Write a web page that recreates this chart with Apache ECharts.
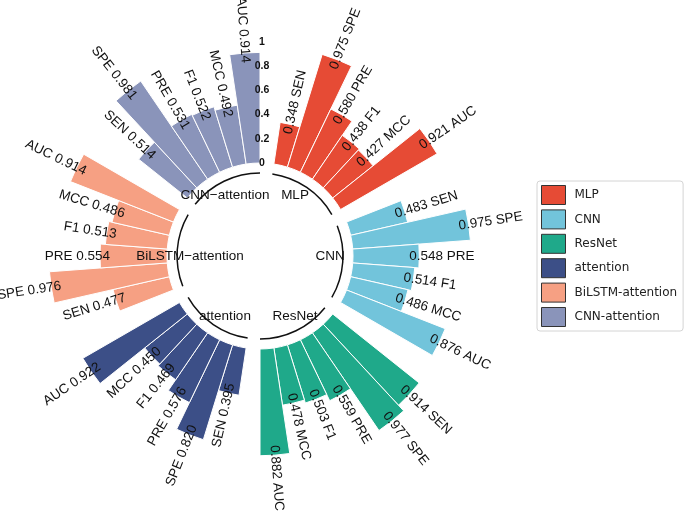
<!DOCTYPE html>
<html>
<head>
<meta charset="utf-8">
<script src="https://cdn.jsdelivr.net/npm/echarts@6/dist/echarts.min.js"></script>
<style>html,body{margin:0;padding:0;background:#fff;}#main{width:685px;height:512px;}</style>
</head>
<body>
<div id="main"></div>
<script>
const groups = ['MLP', 'CNN', 'ResNet', 'attention', 'BiLSTM-attention', 'CNN-attention'];
const groupTitles = ['MLP', 'CNN', 'ResNet', 'attention', 'BiLSTM\u2212attention', 'CNN\u2212attention'];
const metrics = ['SEN', 'SPE', 'PRE', 'F1', 'MCC', 'AUC'];
const mlpValues = [0.348, 0.975, 0.580, 0.438, 0.427, 0.921];
const cnnValues = [0.483, 0.975, 0.548, 0.514, 0.486, 0.876];
const resnetValues = [0.914, 0.977, 0.559, 0.503, 0.478, 0.882];
const attentionValues = [0.395, 0.820, 0.576, 0.469, 0.450, 0.922];
const bilstmValues = [0.477, 0.976, 0.554, 0.513, 0.486, 0.914];
const cnnAttValues = [0.514, 0.981, 0.531, 0.522, 0.492, 0.914];
const tickValues = [0, 0.2, 0.4, 0.6, 0.8, 1];
const tickLabels = ['0', '0.2', '0.4', '0.6', '0.8', '1'];
const colors = ['#E64B35', '#72C4DB', '#1FA98A', '#3C4F87', '#F6A083', '#8A94BA'];

const allValues = [mlpValues, cnnValues, resnetValues, attentionValues, bilstmValues, cnnAttValues];

// slots: one empty slot before each group, then its 6 bars
const slots = [];
groups.forEach((g, gi) => {
  slots.push('gap' + gi);
  metrics.forEach(m => slots.push(g + ' ' + m));
});
const N = slots.length;

const barSeries = groups.map((g, gi) => {
  const data = new Array(N).fill('-');
  allValues[gi].forEach((v, mi) => { data[gi * 7 + 1 + mi] = v; });
  return {
    name: g, type: 'bar', coordinateSystem: 'polar', stack: 'all',
    data: data, barCategoryGap: '0%',
    itemStyle: { color: colors[gi], borderColor: '#fff', borderWidth: 1 },
    emphasis: { disabled: true }, z: 2
  };
});

const labelData = [];
allValues.forEach((vals, gi) => vals.forEach((v, mi) => labelData.push([v, gi * 7 + 1 + mi, gi, mi])));

function angOf(p, cx, cy) {
  let t = Math.atan2(p[0] - cx, -(p[1] - cy)) * 180 / Math.PI;
  if (t < 0) t += 360;
  return t;
}
const FONT = '13.5px "Liberation Sans", Arial, sans-serif';

const labelSeries = {
  type: 'custom', coordinateSystem: 'polar', z: 5, silent: true,
  encode: { radius: 0, angle: 1 },
  data: labelData,
  renderItem: function (params, api) {
    const cs = params.coordSys;
    const cx = cs.cx, cy = cs.cy;
    const v = api.value(0), idx = api.value(1);
    const mi = labelData[params.dataIndex][3];
    const p = api.coord([v, idx]);
    const r = Math.hypot(p[0] - cx, p[1] - cy) - 10;
    const th = angOf(p, cx, cy);
    const rad = th * Math.PI / 180;
    const x = cx + r * Math.sin(rad), y = cy - r * Math.cos(rad);
    const vs = v.toFixed(3);
    let text, rot, align;
    if (th < 180) { text = vs + ' ' + metrics[mi]; rot = (90 - th); align = 'left'; }
    else { text = metrics[mi] + ' ' + vs; rot = (270 - th); align = 'right'; }
    return {
      type: 'text', x: x, y: y, rotation: rot * Math.PI / 180,
      style: { text: text, align: align, verticalAlign: 'middle', font: FONT, fill: '#111' }
    };
  }
};

const groupData = groups.map((g, gi) => [-0.19, gi * 7 + 3, gi]);
const groupSeries = {
  type: 'custom', coordinateSystem: 'polar', z: 5, silent: true,
  encode: { radius: 0, angle: 1 },
  data: groupData,
  renderItem: function (params, api) {
    const cs = params.coordSys;
    const cx = cs.cx, cy = cs.cy;
    const gi = params.dataIndex;
    const pt = api.coord([api.value(0), api.value(1)]);
    const pA = api.coord([-0.083, gi * 7 + 1]);
    const pB = api.coord([-0.083, gi * 7 + 6]);
    const tA = angOf(pA, cx, cy), tB = angOf(pB, cx, cy);
    const half = (tB - tA) / 10;
    const rArc = Math.hypot(pA[0] - cx, pA[1] - cy);
    return {
      type: 'group',
      children: [
        { type: 'arc', shape: { cx: cx, cy: cy, r: rArc,
            startAngle: (tA - half - 90) * Math.PI / 180, endAngle: (tB + half - 90) * Math.PI / 180, clockwise: true },
          style: { stroke: '#111', lineWidth: 1.5, fill: null } },
        { type: 'text', x: pt[0], y: pt[1],
          style: { text: groupTitles[gi], align: 'center', verticalAlign: 'middle', font: FONT, fill: '#111' } }
      ]
    };
  }
};

const tickData = tickValues.map((v, i) => [v, 0, i]);
const tickSeries = {
  type: 'custom', coordinateSystem: 'polar', z: 5, silent: true,
  encode: { radius: 0, angle: 1 },
  data: tickData,
  renderItem: function (params, api) {
    const cs = params.coordSys;
    const cx = cs.cx, cy = cs.cy;
    const p = api.coord([api.value(0), 0]);
    const r = Math.hypot(p[0] - cx, p[1] - cy);
    return { type: 'text', x: cx + 2, y: cy - r,
      style: { text: tickLabels[params.dataIndex], align: 'center', verticalAlign: 'middle',
        font: 'bold 10.5px "Liberation Sans", Arial, sans-serif', fill: '#111' } };
  }
};

const chart = echarts.init(document.getElementById('main'), null, { renderer: 'canvas' });
chart.setOption({
  animation: false,
  backgroundColor: '#fff',
  polar: { center: [260, 256], radius: [93, 214] },
  angleAxis: { type: 'category', data: slots, startAngle: 90, clockwise: true, show: false,
    axisLine: { show: false }, axisTick: { show: false }, axisLabel: { show: false }, splitLine: { show: false } },
  radiusAxis: { type: 'value', min: 0, max: 1, show: false,
    axisLine: { show: false }, axisTick: { show: false }, axisLabel: { show: false }, splitLine: { show: false } },
  legend: {
    data: groups, orient: 'vertical', left: 537, top: 181,
    padding: [4, 6, 4, 4], itemWidth: 24, itemHeight: 19, itemGap: 4.4,
    borderColor: '#d4d4d4', borderWidth: 1, borderRadius: 3,
    icon: 'rect', selectedMode: false,
    itemStyle: { borderColor: '#333', borderWidth: 1 },
    textStyle: { fontFamily: 'DejaVu Sans', fontSize: 12, color: '#222', padding: [0, 0, 0, 4] }
  },
  series: barSeries.concat([labelSeries, groupSeries, tickSeries])
});
</script>
</body>
</html>
